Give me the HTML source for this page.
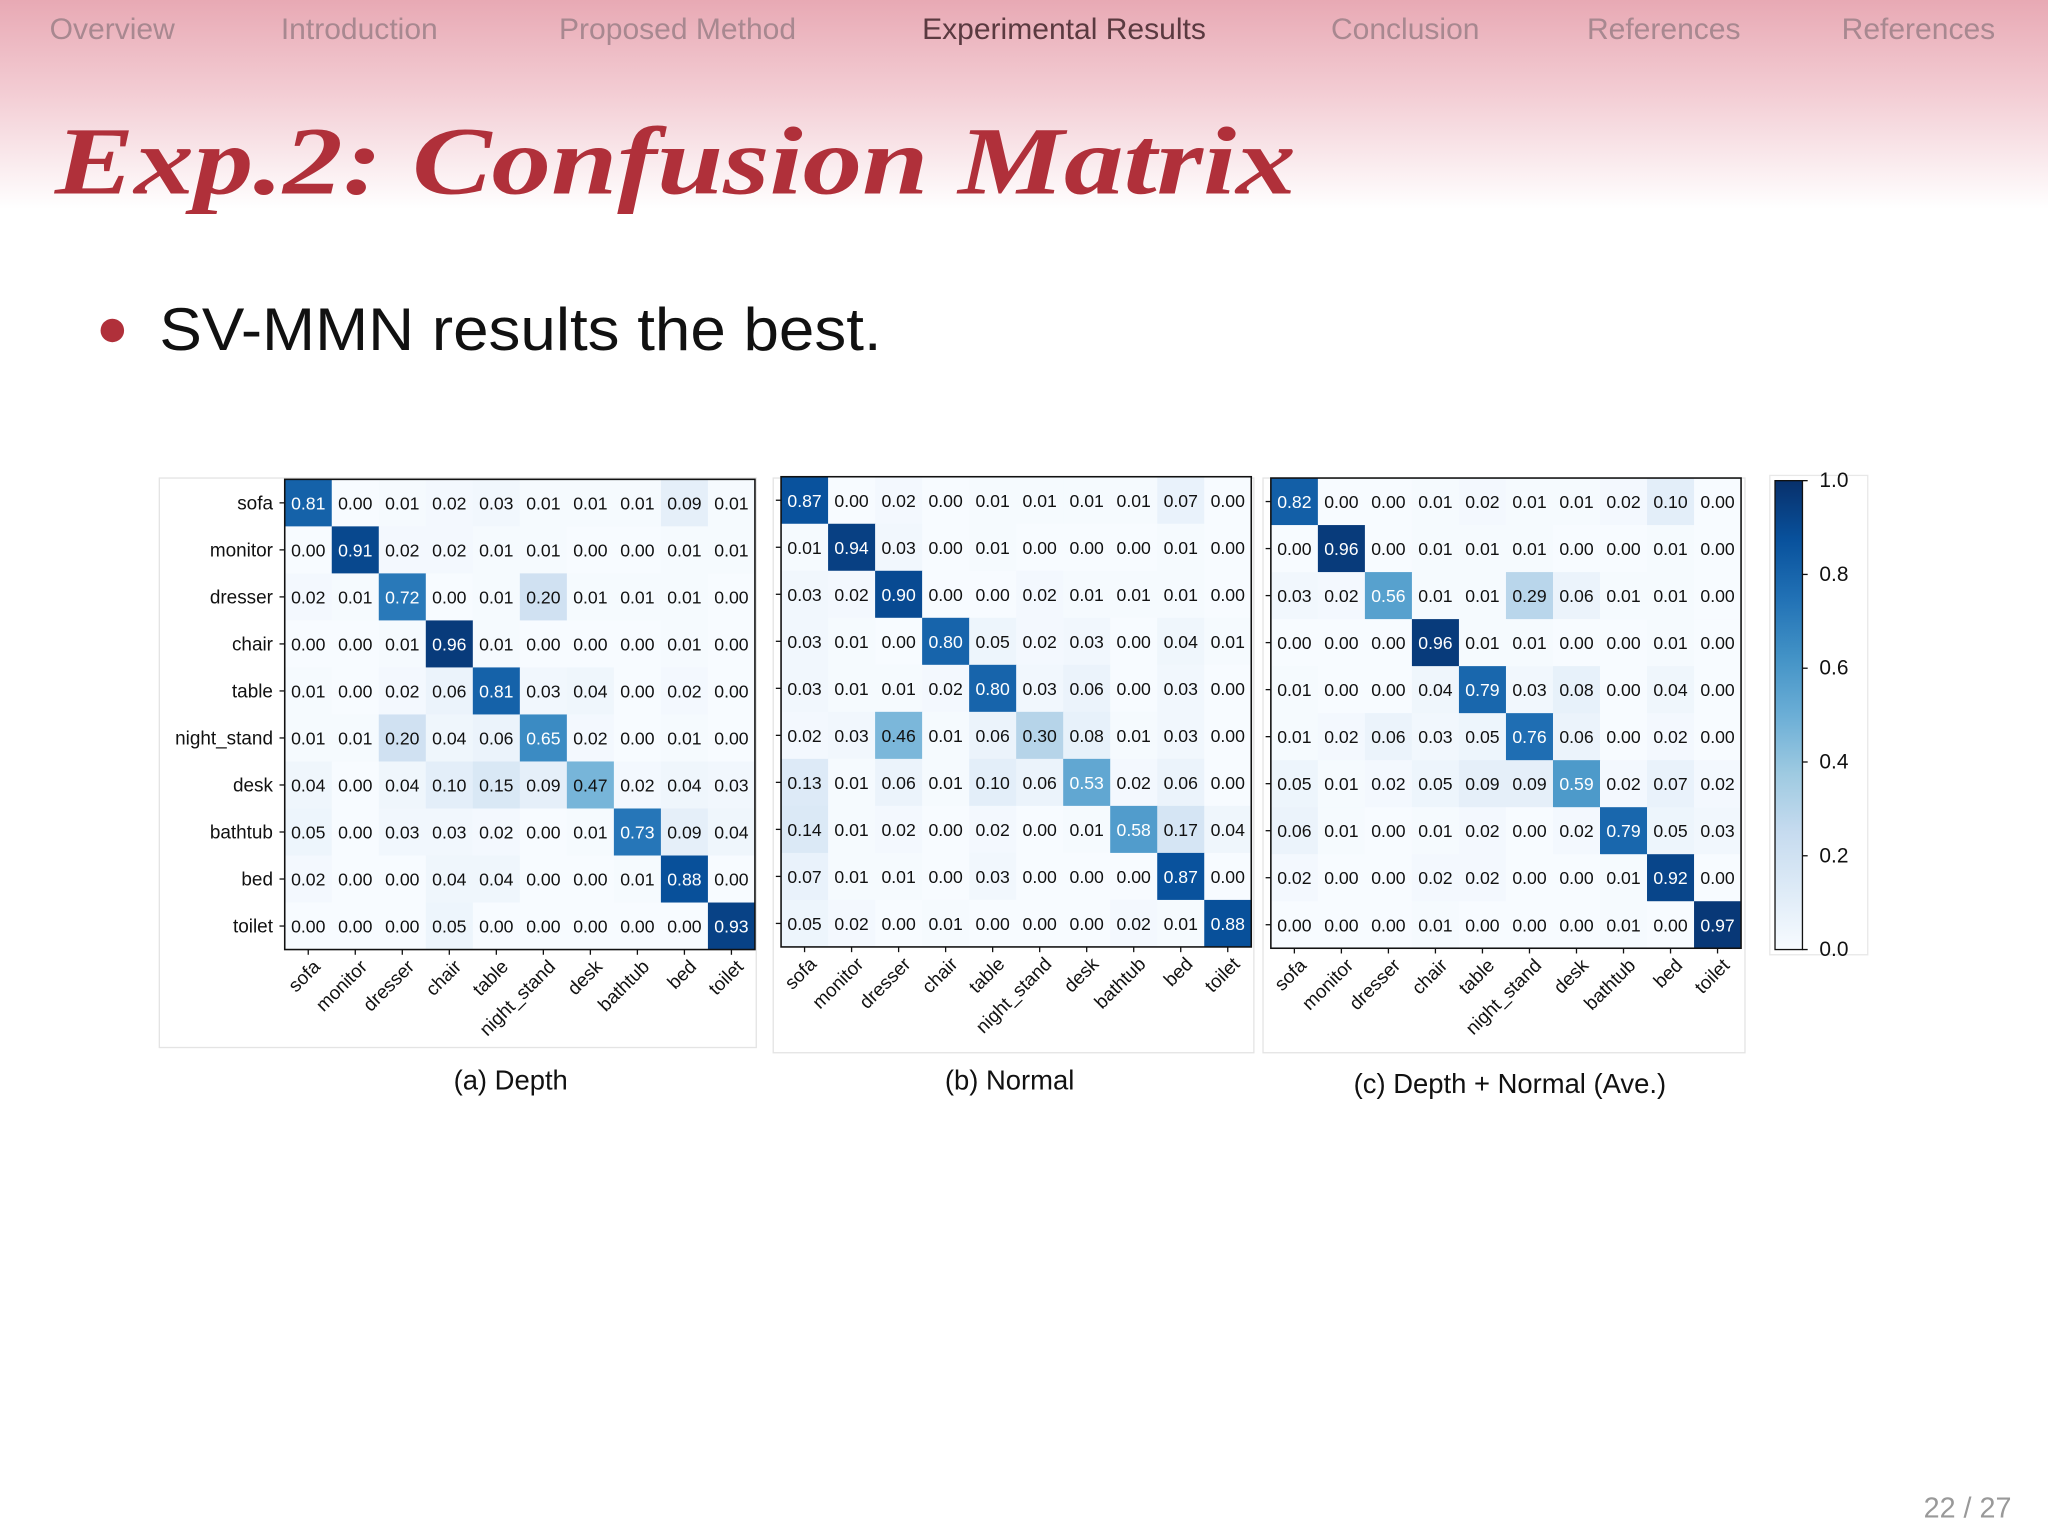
<!DOCTYPE html>
<html><head><meta charset="utf-8">
<style>
html,body{margin:0;padding:0;background:#fff;}
svg{display:block;}
</style></head>
<body>
<svg id="page" width="2048" height="1536" viewBox="0 0 1568 1176" xmlns="http://www.w3.org/2000/svg" font-family="Liberation Sans, DejaVu Sans, sans-serif">
<defs>
<linearGradient id="hdr" x1="0" y1="0" x2="0" y2="1">
<stop offset="0" stop-color="#e8a9b4"/><stop offset="0.45" stop-color="#f3cdd4"/><stop offset="1" stop-color="#ffffff"/>
</linearGradient>
<linearGradient id="cbar" x1="0" y1="1" x2="0" y2="0">
<stop offset="0" stop-color="#f7fbff"/><stop offset="0.125" stop-color="#deebf7"/><stop offset="0.25" stop-color="#c6dbef"/><stop offset="0.375" stop-color="#9ecae1"/><stop offset="0.5" stop-color="#6baed6"/><stop offset="0.625" stop-color="#4292c6"/><stop offset="0.75" stop-color="#2171b5"/><stop offset="0.875" stop-color="#08519c"/><stop offset="1" stop-color="#08306b"/>
</linearGradient>
</defs>
<rect x="0" y="0" width="1568" height="160" fill="url(#hdr)"/>
<g font-size="23" fill="#a88890">
<text x="38" y="30">Overview</text>
<text x="215" y="30">Introduction</text>
<text x="428" y="30">Proposed Method</text>
<text x="706" y="30" fill="#5a3a40">Experimental Results</text>
<text x="1019" y="30">Conclusion</text>
<text x="1215" y="30">References</text>
<text x="1410" y="30">References</text>
</g>
<text x="42" y="148" textLength="950" lengthAdjust="spacingAndGlyphs" font-family="Liberation Serif, DejaVu Serif, serif" font-style="italic" font-weight="bold" font-size="74" fill="#b0303a">Exp.2:  Confusion Matrix</text>
<circle cx="86" cy="253" r="9" fill="#b0303a"/>
<text x="122" y="268" textLength="553" lengthAdjust="spacingAndGlyphs" font-size="46" fill="#111">SV-MMN results the best.</text>
<g id="charts"></g>
<text x="1540" y="1162" text-anchor="end" font-size="22" fill="#999">22 / 27</text>
</svg>
<script>
const classes=["sofa","monitor","dresser","chair","table","night_stand","desk","bathtub","bed","toilet"];
const valuesDepth=[
[.81,.00,.01,.02,.03,.01,.01,.01,.09,.01],
[.00,.91,.02,.02,.01,.01,.00,.00,.01,.01],
[.02,.01,.72,.00,.01,.20,.01,.01,.01,.00],
[.00,.00,.01,.96,.01,.00,.00,.00,.01,.00],
[.01,.00,.02,.06,.81,.03,.04,.00,.02,.00],
[.01,.01,.20,.04,.06,.65,.02,.00,.01,.00],
[.04,.00,.04,.10,.15,.09,.47,.02,.04,.03],
[.05,.00,.03,.03,.02,.00,.01,.73,.09,.04],
[.02,.00,.00,.04,.04,.00,.00,.01,.88,.00],
[.00,.00,.00,.05,.00,.00,.00,.00,.00,.93]];
const valuesNormal=[
[.87,.00,.02,.00,.01,.01,.01,.01,.07,.00],
[.01,.94,.03,.00,.01,.00,.00,.00,.01,.00],
[.03,.02,.90,.00,.00,.02,.01,.01,.01,.00],
[.03,.01,.00,.80,.05,.02,.03,.00,.04,.01],
[.03,.01,.01,.02,.80,.03,.06,.00,.03,.00],
[.02,.03,.46,.01,.06,.30,.08,.01,.03,.00],
[.13,.01,.06,.01,.10,.06,.53,.02,.06,.00],
[.14,.01,.02,.00,.02,.00,.01,.58,.17,.04],
[.07,.01,.01,.00,.03,.00,.00,.00,.87,.00],
[.05,.02,.00,.01,.00,.00,.00,.02,.01,.88]];
const valuesAve=[
[.82,.00,.00,.01,.02,.01,.01,.02,.10,.00],
[.00,.96,.00,.01,.01,.01,.00,.00,.01,.00],
[.03,.02,.56,.01,.01,.29,.06,.01,.01,.00],
[.00,.00,.00,.96,.01,.01,.00,.00,.01,.00],
[.01,.00,.00,.04,.79,.03,.08,.00,.04,.00],
[.01,.02,.06,.03,.05,.76,.06,.00,.02,.00],
[.05,.01,.02,.05,.09,.09,.59,.02,.07,.02],
[.06,.01,.00,.01,.02,.00,.02,.79,.05,.03],
[.02,.00,.00,.02,.02,.00,.00,.01,.92,.00],
[.00,.00,.00,.01,.00,.00,.00,.01,.00,.97]];
const captions=["(a) Depth","(b) Normal","(c) Depth + Normal (Ave.)"];
const cbarTicks=[0,0.2,0.4,0.6,0.8,1.0];

const NS="http://www.w3.org/2000/svg";
const root=document.getElementById('charts');
function mk(tag,attrs,parent){const e=document.createElementNS(NS,tag);for(const k in attrs)e.setAttribute(k,attrs[k]);(parent||root).appendChild(e);return e;}
const stops=["#f7fbff","#deebf7","#c6dbef","#9ecae1","#6baed6","#4292c6","#2171b5","#08519c","#08306b"];
function hex(h){return [1,3,5].map(i=>parseInt(h.substr(i,2),16));}
function blues(v){v=Math.max(0,Math.min(1,v));const p=v*8,i=Math.min(7,Math.floor(p)),t=p-i;const a=hex(stops[i]),b=hex(stops[i+1]);return "rgb("+a.map((x,j)=>Math.round(x+(b[j]-x)*t)).join(",")+")";}

const panels=[
{data:valuesDepth,x0:218,y0:367,size:360,box:[122,366,457,436],cap:[391,834],labels:true},
{data:valuesNormal,x0:598,y0:365,size:360,box:[592,366,368,440],cap:[773,834],labels:false},
{data:valuesAve,x0:973,y0:366,size:360,box:[967,366,369,440],cap:[1156,837],labels:false}];

panels.forEach((p,pi)=>{
  const g=mk('g',{});
  
  
  const bx=mk('rect',{x:p.box[0],y:p.box[1],width:p.box[2],height:p.box[3],fill:'#fff',stroke:'#e4e4e4','stroke-width':1},g);
  
  
  const n=classes.length,c=p.size/n;
  const xs=j=>p.x0+j*c, ys=i=>p.y0+i*c;
  p.data.forEach((row,i)=>row.forEach((v,j)=>{
    const r=mk('rect',{x:xs(j),y:ys(i),width:c+0.3,height:c+0.3,fill:blues(v)},g);
    
    
    const t=mk('text',{x:xs(j)+c/2,y:ys(i)+c/2+5,'text-anchor':'middle','font-size':13.5,fill:v>0.5?'#fff':'#111'},g);
    t.textContent=v.toFixed(2);
    
    
  }));
  const fr=mk('rect',{x:p.x0,y:p.y0,width:p.size,height:p.size,fill:'none',stroke:'#111','stroke-width':1.2},g);
  
  
  classes.forEach((name,k)=>{
    mk('line',{x1:p.x0-4,x2:p.x0,y1:ys(k)+c/2,y2:ys(k)+c/2,stroke:'#111'},g);
    mk('line',{x1:xs(k)+c/2,x2:xs(k)+c/2,y1:p.y0+p.size,y2:p.y0+p.size+4,stroke:'#111'},g);
    if(p.labels){
      const t=mk('text',{x:p.x0-9,y:ys(k)+c/2+5,'text-anchor':'end','font-size':14.5,fill:'#111'},g);
      t.textContent=name;
      
      
    }
    const tx=xs(k)+c/2+10, ty=p.y0+p.size+14;
    const t2=mk('text',{x:tx,y:ty,'text-anchor':'end','font-size':14.5,fill:'#111',transform:'rotate(-45 '+tx+' '+ty+')'},g);
    t2.textContent=name;
    
    
  });
  const cap=mk('text',{x:p.cap[0],y:p.cap[1],'text-anchor':'middle','font-size':21,fill:'#111'},g);
  cap.textContent=captions[pi];
  
  
});

const cg=mk('g',{});


mk('rect',{x:1355,y:364,width:75,height:367,fill:'#fff',stroke:'#e8e8e8'},cg);
const cy0=727,cy1=368;
const cb=mk('rect',{x:1359,y:cy1,width:21,height:cy0-cy1,fill:'url(#cbar)',stroke:'#111','stroke-width':1},cg);


const cyS=v=>cy0-(cy0-cy1)*v;
cbarTicks.forEach(v=>{
  mk('line',{x1:1380,x2:1384,y1:cyS(v),y2:cyS(v),stroke:'#111'},cg);
  const t=mk('text',{x:1393,y:cyS(v)+5,'font-size':16,fill:'#111'},cg);
  t.textContent=v.toFixed(1);
  
  
});
</script>
</body></html>
